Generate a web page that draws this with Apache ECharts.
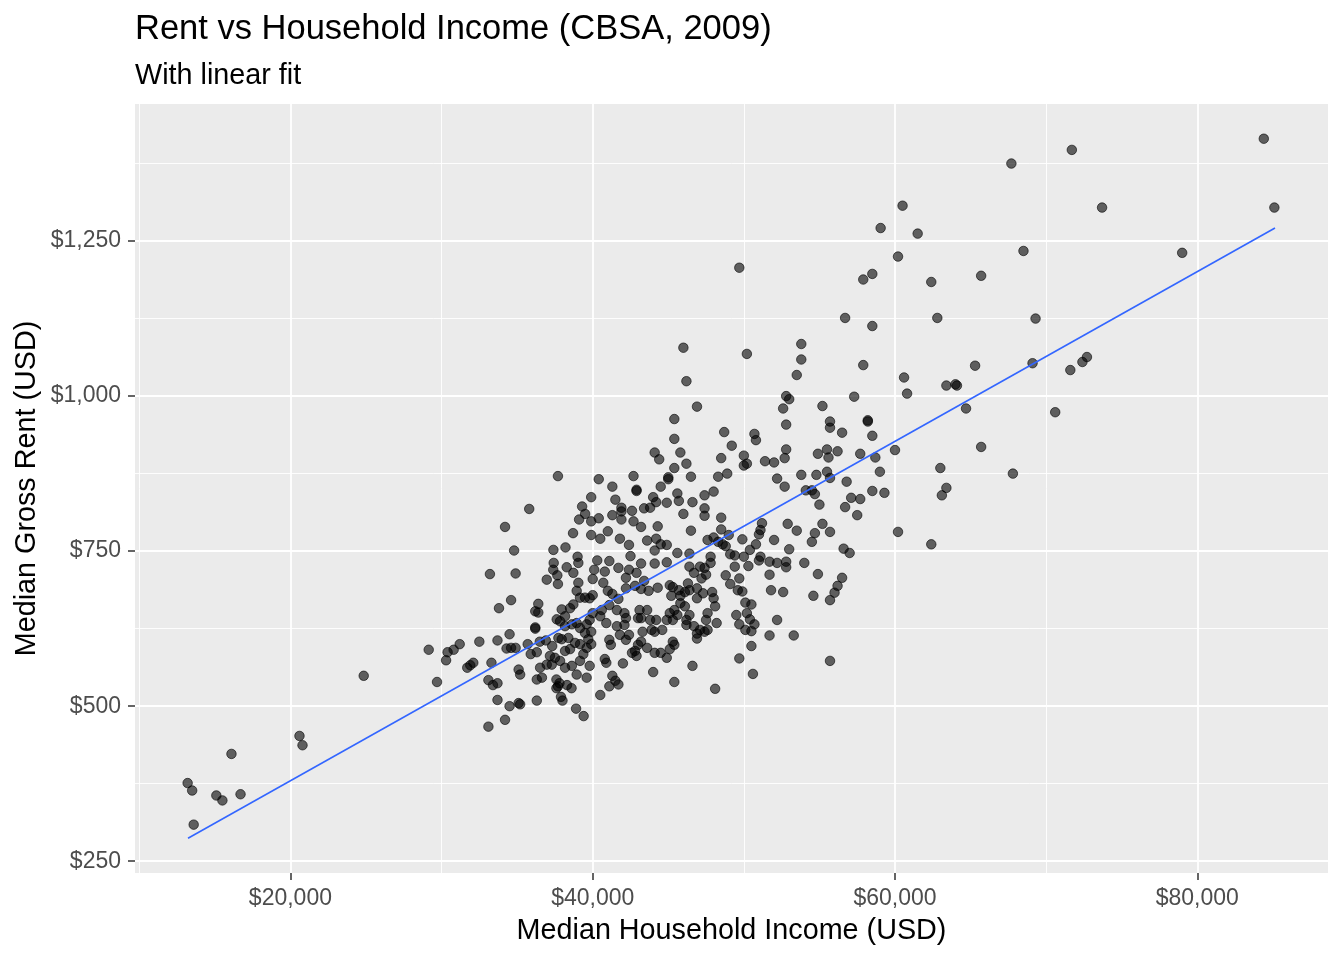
<!DOCTYPE html>
<html>
<head>
<meta charset="utf-8">
<script src="https://cdn.jsdelivr.net/npm/echarts@6/dist/echarts.min.js"></script>
<style>
html,body{margin:0;padding:0;background:#fff;}
#chart{width:1344px;height:960px;}
</style>
</head>
<body>
<div id="chart"></div>
<script>
// Median household income (USD) per CBSA
const income = [
 13200,13500,13600,16100,15100,15500,16700,20600,20800,24850,29150,29700,30400,30300,
 84400,85100,71700,67700,73700,60500,59050,61500,79000,60200,68500,58500,57900,62400,65700,56700,58500,62800,69300,57900,65300,69100,72700,72400,71600,60600,60800,63400,64000,64100,64700,70600,57300,58200,
 60000,65700,59000,63000,59300,67800,63400,63100,60200,62400,
 50300,51700,54900,56500,56200,56000,55700,51800,52600,54600,52200,51700,53300,50500,55700,50600,49700,
 50100,50500,50200,50400,50700,50100,50500,49700,49700,49900,
 51700,52200,52800,52800,54000,51000,
 52800,53000,55200,52600,52800,55700,55700,56500,58200,58500,50700,50800,50000,50200,50000,51400,52000,52800,52700,54900,55500,55600,56200,57700,58700,52200,52700,53800,54800,55500,55700,56800,54100,54500,54700,55000,57100,57700,58500,56700,57500,52900,53500,55200,55700,54700,54500,52000,53000,56600,57000,51200,51100,51000,50800,50400,50000,49900,51100,
 46200,46900,45400,45400,48700,49200,44100,44400,45800,45400,46200,48500,40400,42700,45000,45000,46500,48300,48900,41300,42900,42900,44500,39900,41500,44000,44200,45600,45700,47400,48000,46600,44900,41900,41900,41300,43400,43800,42600,40400,39900,41900,42700,43200,46000,47400,47400,48500,44300,46500,48500,39900,40500,41000,41800,42400,43600,44200,44100,44500,44900,47600,48000,48300,48600,49000,48800,49100,49400,42500,45600,46400,47800,
 49700,46000,50200,53800,53800,53500,
 37700,35800,34200,34800,37400,38200,39000,38700,39100,39500,39300,
 33200,34900,36960,37660,37420,37390,38280,39050,38720,39050,38940,39160,39490,37700,33800,34600,36200,36400,36400,36200,36200,
 37950,37620,38170,38500,38720,
 37840,38170,38620,38940,39160,39600,39490,39710,38830,38390,37950,38170,38500,39160,39600,
 37320,37730,37170,37500,37840,38170,38620,38940,39600,39160,39380,
 36520,36640,36300,37290,36960,37600,37700,37800,37600,37900,38000,38300,38600,
 38900,39400,36300,34500,35100,35200,33700,34200,33100,33100,33400,33700,35100,35200,33300,31700,31900,32100,30800,31200,32500,33700,34500,34300,34600,34900,35700,35900,36300,36500,36900,
 40300,41100,41700,42400,42900,43200,44100,44900,40100,40800,40000,40700,
 42200,42800,43400,44300,43700,43200,42200,41000,41300,41700,40000,39800,
 45100,45300,45700,45200,45800,46100,46400,46900,46300,46700,46400,47100,47400,47500,47800,47200,47300,46900,47900,48000,48100,47600,47500,48200,47400,46900,47100,46700,46200,46200,46400,46100,45800,45400,45600,45100,45300,44900,44600,44100,43900,43300,43100,43600,43200,43800,44200,43000,42200,42100,41600,41100,40600,40000,40500,39800,40900,41600,42100,41800,42400,42200,41100,41200,39900,39900,43200,43000,42800,42600,42900,43600,44100,44500,44900,45100,45300,45400,46900,47600,48800,49100,49600,49400,
 40800,40900,42000,44000,41300,41500,41700,41100,40500,45400,46600,48100,39800,49500
];
// Median gross rent (USD), same order as income
const rent = [
 376,364,309,423,356,348,358,452,437,549,591,539,587,574,
 1415,1304,1397,1375,1304,1307,1271,1262,1231,1225,1234,1197,1188,1184,1194,1126,1113,1126,1125,1050,1049,1053,1063,1055,1042,1030,1004,1017,1019,1017,980,974,999,961,
 913,918,878,884,844,875,852,840,781,761,
 726,712,713,707,694,683,671,687,684,678,639,614,614,597,573,552,577,
 667,664,650,640,632,623,621,632,706,685,
 733,731,733,724,731,735,
 1000,995,984,980,954,959,949,941,959,936,939,929,904,891,888,895,893,914,900,907,914,901,911,907,901,867,854,873,873,878,868,862,848,848,842,825,836,834,847,821,808,794,783,794,781,779,765,768,753,754,747,795,784,777,761,752,741,769,741,
 1024,983,963,931,942,920,909,898,909,884,891,900,866,871,869,866,870,870,875,854,849,847,854,837,833,837,829,843,831,840,846,829,828,820,814,808,819,820,815,803,798,801,798,789,810,819,807,804,790,783,785,776,770,782,770,760,767,770,751,761,760,768,772,765,761,776,758,745,743,742,747,746,741,
 1207,1078,1068,1084,1059,1034,
 871,818,789,751,752,756,741,779,801,810,822,
 713,714,704,711,731,720,724,731,715,699,686,675,675,697,658,671,653,665,651,625,627,
 656,640,645,658,664,
 637,629,632,634,626,632,618,608,602,610,608,589,592,600,594,
 597,610,581,578,573,562,565,551,546,573,584,
 562,546,543,567,567,543,532,537,529,515,509,534,529,
 496,484,509,500,505,503,510,478,467,542,534,537,559,551,570,562,566,570,591,600,604,606,616,593,594,594,600,584,587,604,606,
 735,734,723,720,715,730,730,732,720,717,705,699,
 707,694,702,691,686,689,690,686,681,673,679,674,
 695,692,687,678,678,684,687,690,698,715,725,725,723,712,731,706,682,674,684,674,661,650,639,634,620,609,623,629,631,639,647,661,666,655,647,650,639,639,623,620,623,620,655,655,642,639,639,642,642,650,655,663,655,650,645,639,634,629,631,615,615,607,607,599,620,600,604,599,589,586,581,594,586,586,578,592,604,599,617,623,711,697,687,725,
 576,570,569,555,549,541,535,532,518,539,565,528,565,647
];
// Linear fit end points
const fitIncome = [13225, 85141];
const fitRent = [287, 1271];
// Axis breaks
const xBreaks = [20000, 40000, 60000, 80000];
const xMinorBreaks = [10000, 30000, 50000, 70000];
const yBreaks = [250, 500, 750, 1000, 1250];
const yMinorBreaks = [375, 625, 875, 1125, 1375];

const FONT = '"Liberation Sans", Arial, sans-serif';
function dollar(v){ return '$' + String(Math.round(v)).replace(/\B(?=(\d{3})+(?!\d))/g, ','); }

const points = income.map((x, i) => [x, rent[i]]);
const fitData = fitIncome.map((x, i) => [x, fitRent[i]]);

const gridLines = [];
xMinorBreaks.forEach(v => gridLines.push({xAxis: v, lineStyle: {color: '#FFFFFF', width: 0.9, type: 'solid'}}));
yMinorBreaks.forEach(v => gridLines.push({yAxis: v, lineStyle: {color: '#FFFFFF', width: 0.9, type: 'solid'}}));
xBreaks.forEach(v => gridLines.push({xAxis: v, lineStyle: {color: '#FFFFFF', width: 1.8, type: 'solid'}}));
yBreaks.forEach(v => gridLines.push({yAxis: v, lineStyle: {color: '#FFFFFF', width: 1.8, type: 'solid'}}));

const chart = echarts.init(document.getElementById('chart'), null, {renderer: 'canvas'});
chart.setOption({
  animation: false,
  backgroundColor: '#FFFFFF',
  textStyle: {fontFamily: FONT},
  title: [
    {text: 'Rent vs Household Income (CBSA, 2009)', left: 135, top: 12, padding: 0,
     textStyle: {fontSize: 34.5, lineHeight: 34.5, fontWeight: 'normal', color: '#000000', fontFamily: FONT}},
    {text: 'With linear fit', left: 135, top: 62, padding: 0,
     textStyle: {fontSize: 28.75, lineHeight: 28.75, fontWeight: 'normal', color: '#000000', fontFamily: FONT}}
  ],
  grid: {left: 135, right: 16, top: 104, bottom: 87, show: true, backgroundColor: '#EBEBEB', borderWidth: 0, containLabel: false},
  xAxis: {
    type: 'value', min: 9718, max: 88648,
    name: 'Median Household Income (USD)', nameLocation: 'middle', nameGap: 44, nameMoveOverlap: false,
    nameTextStyle: {fontSize: 28.75, color: '#000000', fontFamily: FONT},
    axisLine: {show: false},
    splitLine: {show: false},
    axisTick: {show: true, customValues: xBreaks, length: 7, lineStyle: {color: '#333333', width: 1.5}},
    axisLabel: {customValues: xBreaks, formatter: dollar, margin: 14, color: '#4D4D4D', fontSize: 23, fontFamily: FONT}
  },
  yAxis: {
    type: 'value', min: 231, max: 1471,
    name: 'Median Gross Rent (USD)', nameLocation: 'middle', nameGap: 93, nameRotate: 90, nameMoveOverlap: false,
    nameTextStyle: {fontSize: 28.75, color: '#000000', fontFamily: FONT},
    axisLine: {show: false},
    splitLine: {show: false},
    axisTick: {show: true, customValues: yBreaks, length: 7, lineStyle: {color: '#333333', width: 1.5}},
    axisLabel: {customValues: yBreaks, formatter: dollar, margin: 14, color: '#4D4D4D', fontSize: 23, fontFamily: FONT}
  },
  series: [
    {
      type: 'line', z: 1, zlevel: 0, silent: true, data: [fitData[0]], symbol: 'none',
      lineStyle: {opacity: 0},
      markLine: {silent: true, z: 1, symbol: ['none', 'none'], label: {show: false}, animation: false,
                 emphasis: {disabled: true}, data: gridLines}
    },
    {
      type: 'scatter', z: 3, data: points, symbol: 'circle', symbolSize: 9.5,
      itemStyle: {color: 'rgba(0,0,0,0.6)', borderColor: 'rgba(0,0,0,0.6)', borderWidth: 1, opacity: 1},
      emphasis: {disabled: true}
    },
    {
      type: 'line', z: 6, data: fitData, symbol: 'none', silent: true,
      lineStyle: {color: '#3366FF', width: 1.6}
    }
  ]
});
</script>
</body>
</html>
